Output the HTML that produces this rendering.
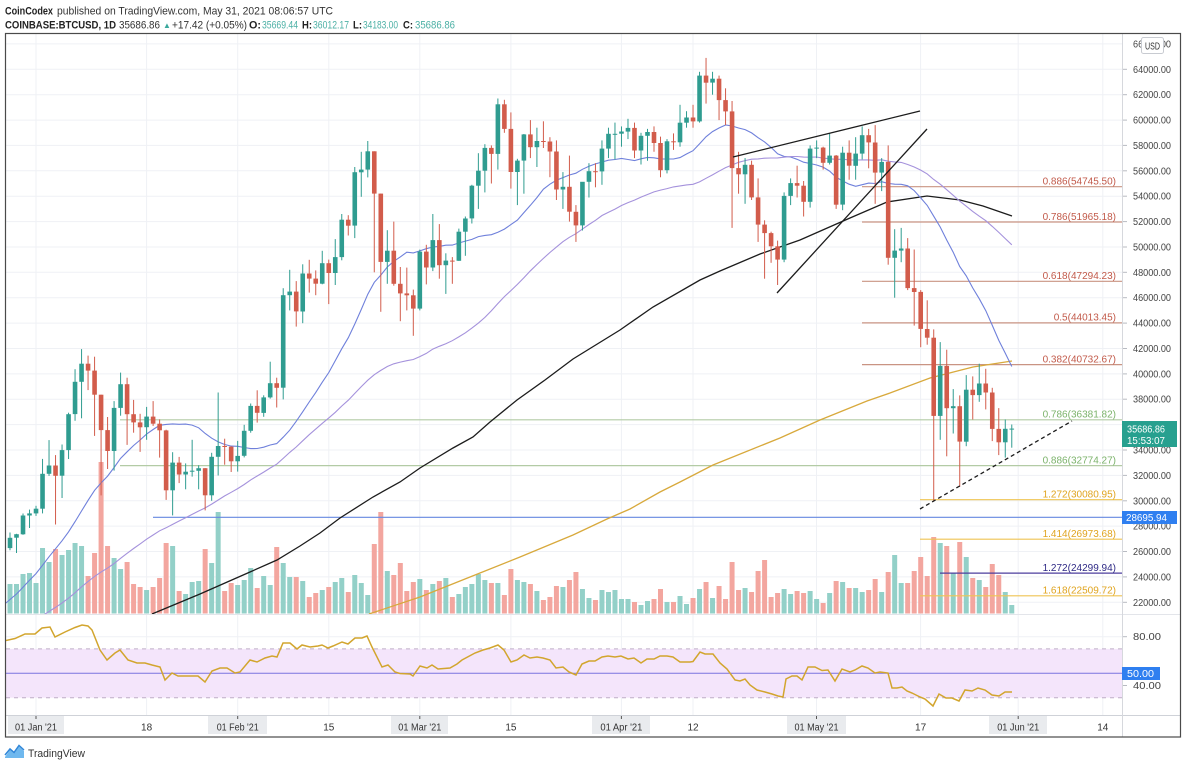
<!DOCTYPE html>
<html><head><meta charset="utf-8">
<style>
html,body{margin:0;padding:0;background:#fff;}
svg{display:block;font-family:"Liberation Sans",sans-serif;}
</style></head>
<body>
<svg id="chart" width="1186" height="768" viewBox="0 0 1186 768" xmlns="http://www.w3.org/2000/svg">
<defs>
<clipPath id="pp"><rect x="6" y="34" width="1116" height="580"/></clipPath>
<clipPath id="rp"><rect x="6" y="615" width="1116" height="100"/></clipPath>
</defs>
<rect width="1186" height="768" fill="#fff"/>

<!-- header -->
<text x="5" y="14.5" font-size="11" font-weight="bold" fill="#222" textLength="48" lengthAdjust="spacingAndGlyphs">CoinCodex</text>
<text x="57" y="14.5" font-size="11" fill="#333" textLength="276" lengthAdjust="spacingAndGlyphs">published on TradingView.com, May 31, 2021 08:06:57 UTC</text>
<text x="5" y="28.5" font-size="11" font-weight="bold" fill="#222" textLength="111" lengthAdjust="spacingAndGlyphs">COINBASE:BTCUSD, 1D</text>
<text x="119" y="28.5" font-size="11" fill="#333" textLength="41" lengthAdjust="spacingAndGlyphs">35686.86</text>
<text x="163" y="28" font-size="8" fill="#3aa89c">▲</text>
<text x="172" y="28.5" font-size="11" fill="#333" textLength="75" lengthAdjust="spacingAndGlyphs">+17.42 (+0.05%)</text>
<text x="249" y="28.5" font-size="11" font-weight="bold" fill="#222" textLength="12" lengthAdjust="spacingAndGlyphs">O:</text>
<text x="262" y="28.5" font-size="11" fill="#4cb0a5" textLength="36" lengthAdjust="spacingAndGlyphs">35669.44</text>
<text x="302" y="28.5" font-size="11" font-weight="bold" fill="#222" textLength="10" lengthAdjust="spacingAndGlyphs">H:</text>
<text x="313" y="28.5" font-size="11" fill="#4cb0a5" textLength="36" lengthAdjust="spacingAndGlyphs">36012.17</text>
<text x="353" y="28.5" font-size="11" font-weight="bold" fill="#222" textLength="9" lengthAdjust="spacingAndGlyphs">L:</text>
<text x="363" y="28.5" font-size="11" fill="#4cb0a5" textLength="35" lengthAdjust="spacingAndGlyphs">34183.00</text>
<text x="403" y="28.5" font-size="11" font-weight="bold" fill="#222" textLength="10" lengthAdjust="spacingAndGlyphs">C:</text>
<text x="415" y="28.5" font-size="11" fill="#4cb0a5" textLength="40" lengthAdjust="spacingAndGlyphs">35686.86</text>

<!-- grid -->
<g stroke="#eff1f5" stroke-width="1">
<line x1="6" x2="1122" y1="43.9" y2="43.9"/><line x1="6" x2="1122" y1="69.3" y2="69.3"/><line x1="6" x2="1122" y1="94.7" y2="94.7"/><line x1="6" x2="1122" y1="120.1" y2="120.1"/><line x1="6" x2="1122" y1="145.4" y2="145.4"/><line x1="6" x2="1122" y1="170.8" y2="170.8"/><line x1="6" x2="1122" y1="196.2" y2="196.2"/><line x1="6" x2="1122" y1="221.6" y2="221.6"/><line x1="6" x2="1122" y1="247" y2="247"/><line x1="6" x2="1122" y1="272.3" y2="272.3"/><line x1="6" x2="1122" y1="297.7" y2="297.7"/><line x1="6" x2="1122" y1="323.1" y2="323.1"/><line x1="6" x2="1122" y1="348.5" y2="348.5"/><line x1="6" x2="1122" y1="373.9" y2="373.9"/><line x1="6" x2="1122" y1="399.2" y2="399.2"/><line x1="6" x2="1122" y1="424.6" y2="424.6"/><line x1="6" x2="1122" y1="450" y2="450"/><line x1="6" x2="1122" y1="475.4" y2="475.4"/><line x1="6" x2="1122" y1="500.8" y2="500.8"/><line x1="6" x2="1122" y1="526.1" y2="526.1"/><line x1="6" x2="1122" y1="551.5" y2="551.5"/><line x1="6" x2="1122" y1="576.9" y2="576.9"/><line x1="6" x2="1122" y1="602.3" y2="602.3"/>
<line x1="6" x2="1122" y1="636.7" y2="636.7"/><line x1="6" x2="1122" y1="685.5" y2="685.5"/>
<line x1="36" x2="36" y1="34" y2="715"/><line x1="146.6" x2="146.6" y1="34" y2="715"/><line x1="237.7" x2="237.7" y1="34" y2="715"/><line x1="328.8" x2="328.8" y1="34" y2="715"/><line x1="419.8" x2="419.8" y1="34" y2="715"/><line x1="510.9" x2="510.9" y1="34" y2="715"/><line x1="621.4" x2="621.4" y1="34" y2="715"/><line x1="693" x2="693" y1="34" y2="715"/><line x1="816.5" x2="816.5" y1="34" y2="715"/><line x1="920.6" x2="920.6" y1="34" y2="715"/><line x1="1018.2" x2="1018.2" y1="34" y2="715"/><line x1="1102.8" x2="1102.8" y1="34" y2="715"/>
</g>

<!-- RSI band -->
<rect x="6" y="648.9" width="1116" height="48.8" fill="#f4e5fb"/>
<line x1="6" x2="1122" y1="648.9" y2="648.9" stroke="#bfaec8" stroke-dasharray="4,4"/>
<line x1="6" x2="1122" y1="697.7" y2="697.7" stroke="#bfaec8" stroke-dasharray="4,4"/>
<line x1="6" x2="1122" y1="673.3" y2="673.3" stroke="#7a74e0" stroke-width="1"/>

<!-- volume -->
<g id="vol"></g>

<!-- fib lines -->
<g stroke-width="1.2">
<line x1="862" x2="1122" y1="186.7" y2="186.7" stroke="#c99483"/>
<line x1="862" x2="1122" y1="222" y2="222" stroke="#c99483"/>
<line x1="862" x2="1122" y1="281.3" y2="281.3" stroke="#c99483"/>
<line x1="862" x2="1122" y1="322.9" y2="322.9" stroke="#c99483"/>
<line x1="862" x2="1122" y1="364.6" y2="364.6" stroke="#c99483"/>
<line x1="120" x2="1122" y1="419.8" y2="419.8" stroke="#b3cba5"/>
<line x1="120" x2="1122" y1="465.6" y2="465.6" stroke="#b3cba5"/>
<line x1="920" x2="1122" y1="499.7" y2="499.7" stroke="#efc453"/>
<line x1="153" x2="1122" y1="517.3" y2="517.3" stroke="#6688e0"/>
<line x1="920" x2="1122" y1="539.2" y2="539.2" stroke="#efc453"/>
<line x1="940" x2="1122" y1="573.1" y2="573.1" stroke="#4d3e9e"/>
<line x1="920" x2="1122" y1="595.8" y2="595.8" stroke="#efc453"/>
</g>

<!-- moving averages -->
<g clip-path="url(#pp)" fill="none">
<polyline points="152,614 200,594 250,572 277,560 300,546 320,533 340,518 373,497 400,482 420,468 453,448 473,437 490,422 517,400 545,380 573,359 620,330 653,307 700,280 720,271 760,254 800,240 850,218 887,202 927,196 960,200 983,206 1012,216" stroke="#1c1c1c" stroke-width="1.3"/>
<polyline points="369,614 420,597 480,573 520,557 573,535 607,519 630,509 660,492 680,482 713,465 780,438 820,420 867,401 890,393 930,378 973,367 1012,361" stroke="#d8a93c" stroke-width="1.3"/>
<polyline id="sma20" stroke="#6f80db" stroke-width="1.1"/>
<polyline id="sma50" stroke="#a592dc" stroke-width="1.1"/>
</g>

<!-- candles -->
<g id="cdl"></g>

<!-- trend lines -->
<g stroke="#1c1c1c" stroke-width="1.3">
<line x1="733" y1="157" x2="920" y2="111"/>
<line x1="777" y1="293" x2="927" y2="129"/>
<line x1="920" y1="509" x2="1072" y2="421" stroke-dasharray="4,3"/>
</g>

<!-- fib labels -->
<g font-size="10" text-anchor="end">
<text x="1116" y="184.5" fill="#c25a4a">0.886(54745.50)</text>
<text x="1116" y="219.8" fill="#c25a4a">0.786(51965.18)</text>
<text x="1116" y="279" fill="#c25a4a">0.618(47294.23)</text>
<text x="1116" y="320.7" fill="#c25a4a">0.5(44013.45)</text>
<text x="1116" y="362.4" fill="#c25a4a">0.382(40732.67)</text>
<text x="1116" y="417.6" fill="#7cb36b">0.786(36381.82)</text>
<text x="1116" y="463.4" fill="#7cb36b">0.886(32774.27)</text>
<text x="1116" y="497.5" fill="#e0a41f">1.272(30080.95)</text>
<text x="1116" y="537" fill="#e0a41f">1.414(26973.68)</text>
<text x="1116" y="570.9" fill="#2e2985">1.272(24299.94)</text>
<text x="1116" y="593.6" fill="#e0a41f">1.618(22509.72)</text>
</g>

<!-- RSI line -->
<g clip-path="url(#rp)">
<polyline fill="none" stroke="#d2a52e" stroke-width="1.5" points="5,640.7 15,638.5 25,634 35,634 42,628 50,627 55,637 65,632 75,627.5 82,625 88,626 92,630 100,650 107,660 115,653 120,650 128,660 137,663 145,663 152,665 160,667 165,680 172,673 178,676 192,676 198,676 205,682 212,671 220,668 227,668 235,673 240,672 250,660 257,662 265,658 272,656 277,657 283,643 290,643 297,649 302,645 310,647 318,646 322,645 328,648 333,646 342,642 348,644 355,638 362,638 367,636 372,647 382,667 388,665 395,672 400,673.5 410,674 413,676 420,666 427,668 432,665 438,669 450,668 457,664 462,660 475,653 483,650 490,648 498,645 504,650 511,662 517,660 524,655 530,658 537,657 543,658 550,660 556,668 563,667 569,672 576,675 582,664 589,661 595,661 602,657 608,656 615,657 621,656 628,659 634,658 641,663 647,659 654,659 660,656 667,656 673,657 680,662 690,662 693,661.5 700,652 705,654 713,654 720,663 727,669 735,680 740,681 745,679 750,685 757,690 765,692 772,694 778,696 783,697 786,679 792,676 797,676 802,680 808,667 815,667 822,670.5 828,670 835,681 842,669 850,672 855,670 862,666 868,668 875,673 880,672 888,673 892,688 897,688 902,687 907,691 912,693 920,697 925,699 933,706 939,694 946,698 952,698 959,701 965,690 972,691 978,688 985,690 992,695 999,696 1005,692 1012,692"/>
</g>

<!-- separators / frame -->
<line x1="6" x2="1180" y1="614.5" y2="614.5" stroke="#e3e5ea"/>
<line x1="5" x2="1180" y1="715.5" y2="715.5" stroke="#cfd2d8"/>
<line x1="1122.5" x2="1122.5" y1="34" y2="737" stroke="#d6d8dd"/>
<rect x="5.5" y="33.5" width="1175" height="703.5" fill="none" stroke="#4a4a4a" stroke-width="1.2"/>

<!-- price axis ticks -->
<g stroke="#b8bbc2">
<line x1="1123" x2="1127" y1="69.3" y2="69.3"/><line x1="1123" x2="1127" y1="94.7" y2="94.7"/><line x1="1123" x2="1127" y1="120.1" y2="120.1"/><line x1="1123" x2="1127" y1="145.4" y2="145.4"/><line x1="1123" x2="1127" y1="170.8" y2="170.8"/><line x1="1123" x2="1127" y1="196.2" y2="196.2"/><line x1="1123" x2="1127" y1="221.6" y2="221.6"/><line x1="1123" x2="1127" y1="247" y2="247"/><line x1="1123" x2="1127" y1="272.3" y2="272.3"/><line x1="1123" x2="1127" y1="297.7" y2="297.7"/><line x1="1123" x2="1127" y1="323.1" y2="323.1"/><line x1="1123" x2="1127" y1="348.5" y2="348.5"/><line x1="1123" x2="1127" y1="373.9" y2="373.9"/><line x1="1123" x2="1127" y1="399.2" y2="399.2"/><line x1="1123" x2="1127" y1="450" y2="450"/><line x1="1123" x2="1127" y1="475.4" y2="475.4"/><line x1="1123" x2="1127" y1="500.8" y2="500.8"/><line x1="1123" x2="1127" y1="551.5" y2="551.5"/><line x1="1123" x2="1127" y1="576.9" y2="576.9"/><line x1="1123" x2="1127" y1="602.3" y2="602.3"/><line x1="1123" x2="1127" y1="636.7" y2="636.7"/><line x1="1123" x2="1127" y1="685.5" y2="685.5"/>
</g>

<!-- price axis labels -->
<g font-size="10" fill="#444">
<text x="1133" y="47.4" textLength="38" lengthAdjust="spacingAndGlyphs">66000.00</text>
<text x="1133" y="72.8" textLength="38" lengthAdjust="spacingAndGlyphs">64000.00</text>
<text x="1133" y="98.2" textLength="38" lengthAdjust="spacingAndGlyphs">62000.00</text>
<text x="1133" y="123.6" textLength="38" lengthAdjust="spacingAndGlyphs">60000.00</text>
<text x="1133" y="148.9" textLength="38" lengthAdjust="spacingAndGlyphs">58000.00</text>
<text x="1133" y="174.3" textLength="38" lengthAdjust="spacingAndGlyphs">56000.00</text>
<text x="1133" y="199.7" textLength="38" lengthAdjust="spacingAndGlyphs">54000.00</text>
<text x="1133" y="225.1" textLength="38" lengthAdjust="spacingAndGlyphs">52000.00</text>
<text x="1133" y="250.5" textLength="38" lengthAdjust="spacingAndGlyphs">50000.00</text>
<text x="1133" y="275.8" textLength="38" lengthAdjust="spacingAndGlyphs">48000.00</text>
<text x="1133" y="301.2" textLength="38" lengthAdjust="spacingAndGlyphs">46000.00</text>
<text x="1133" y="326.6" textLength="38" lengthAdjust="spacingAndGlyphs">44000.00</text>
<text x="1133" y="352" textLength="38" lengthAdjust="spacingAndGlyphs">42000.00</text>
<text x="1133" y="377.4" textLength="38" lengthAdjust="spacingAndGlyphs">40000.00</text>
<text x="1133" y="402.7" textLength="38" lengthAdjust="spacingAndGlyphs">38000.00</text>
<text x="1133" y="428.1" textLength="38" lengthAdjust="spacingAndGlyphs">36000.00</text>
<text x="1133" y="453.5" textLength="38" lengthAdjust="spacingAndGlyphs">34000.00</text>
<text x="1133" y="478.9" textLength="38" lengthAdjust="spacingAndGlyphs">32000.00</text>
<text x="1133" y="504.3" textLength="38" lengthAdjust="spacingAndGlyphs">30000.00</text>
<text x="1133" y="529.6" textLength="38" lengthAdjust="spacingAndGlyphs">28000.00</text>
<text x="1133" y="555" textLength="38" lengthAdjust="spacingAndGlyphs">26000.00</text>
<text x="1133" y="580.4" textLength="38" lengthAdjust="spacingAndGlyphs">24000.00</text>
<text x="1133" y="605.8" textLength="38" lengthAdjust="spacingAndGlyphs">22000.00</text>
<text x="1133" y="640.2" textLength="28" lengthAdjust="spacingAndGlyphs">80.00</text>
<text x="1133" y="689" textLength="28" lengthAdjust="spacingAndGlyphs">40.00</text>
</g>

<!-- USD box -->
<rect x="1141.5" y="37.5" width="22" height="16" rx="2" fill="#fff" stroke="#c8cbd1"/>
<text x="1145" y="49.5" font-size="10" fill="#333" textLength="15" lengthAdjust="spacingAndGlyphs">USD</text>

<!-- current price box -->
<rect x="1122" y="421" width="55" height="26" fill="#27a08f"/>
<text x="1127" y="432.5" font-size="10" fill="#fff" textLength="38" lengthAdjust="spacingAndGlyphs">35686.86</text>
<text x="1127" y="444" font-size="10" fill="#fff" textLength="38" lengthAdjust="spacingAndGlyphs">15:53:07</text>
<!-- blue level box -->
<rect x="1122" y="511" width="55" height="13" fill="#2f7ff0"/>
<text x="1126" y="521" font-size="10" fill="#fff" textLength="41" lengthAdjust="spacingAndGlyphs">28695.94</text>
<!-- RSI 50 box -->
<rect x="1122" y="667" width="38" height="13" fill="#2f7ff0"/>
<text x="1127" y="677" font-size="10" fill="#fff" textLength="27" lengthAdjust="spacingAndGlyphs">50.00</text>

<!-- x axis -->
<g fill="#e9ebee">
<rect x="8" y="716" width="56" height="18"/>
<rect x="208" y="716" width="59" height="18"/>
<rect x="391" y="716" width="57" height="18"/>
<rect x="592" y="716" width="58" height="18"/>
<rect x="787" y="716" width="59" height="18"/>
<rect x="989" y="716" width="58" height="18"/>
</g>
<g stroke="#555">
<line x1="36" x2="36" y1="716" y2="719"/><line x1="237.7" x2="237.7" y1="716" y2="719"/><line x1="419.8" x2="419.8" y1="716" y2="719"/><line x1="621.4" x2="621.4" y1="716" y2="719"/><line x1="816.5" x2="816.5" y1="716" y2="719"/><line x1="1018.2" x2="1018.2" y1="716" y2="719"/>
</g>
<g font-size="10" fill="#333" text-anchor="middle">
<text x="36" y="730.5" textLength="42" lengthAdjust="spacingAndGlyphs">01 Jan '21</text>
<text x="146.6" y="730.5">18</text>
<text x="237.7" y="730.5" textLength="42" lengthAdjust="spacingAndGlyphs">01 Feb '21</text>
<text x="328.8" y="730.5">15</text>
<text x="419.8" y="730.5" textLength="43" lengthAdjust="spacingAndGlyphs">01 Mar '21</text>
<text x="510.9" y="730.5">15</text>
<text x="621.4" y="730.5" textLength="42" lengthAdjust="spacingAndGlyphs">01 Apr '21</text>
<text x="693" y="730.5">12</text>
<text x="816.5" y="730.5" textLength="44" lengthAdjust="spacingAndGlyphs">01 May '21</text>
<text x="920.6" y="730.5">17</text>
<text x="1018.2" y="730.5" textLength="42" lengthAdjust="spacingAndGlyphs">01 Jun '21</text>
<text x="1102.8" y="730.5">14</text>
</g>

<!-- footer -->
<path d="M5 757 L10 750 L14 753.5 L19 746.5 L24 751 L24 758 L5 758 Z" fill="#6fb8ee"/>
<path d="M5 755 L10 749 L14 752.5 L19 745.5 L24 750" fill="none" stroke="#2f86d8" stroke-width="1.5"/>
<text x="28" y="757" font-size="11" fill="#333" textLength="57" lengthAdjust="spacingAndGlyphs">TradingView</text>
</svg>

<script>
(function(){
var D=[[26500,28422,25819,26272],[26272,27500,26101,27084],[27084,27400,25880,27362],[27362,28996,27320,28840],[28840,29300,27850,29002],[29002,29600,28803,29374],[29374,33300,29000,32127],[32127,34778,31962,32782],[32782,33600,28130,31971],[31971,34437,30221,33992],[33992,36939,33288,36824],[36824,40365,36300,39371],[39371,41950,36500,40797],[40797,41436,38720,40254],[40254,41350,35111,38356],[38356,38356,30420,35566],[35566,36600,32500,33922],[33922,37850,32380,37316],[37316,40100,36700,39187],[39187,39700,34400,36825],[36825,37950,35360,36178],[36178,36850,33850,35791],[35791,37400,34800,36630],[36630,37850,35900,36069],[36069,36415,33400,35547],[35547,35600,30071,30825],[30825,33826,28850,33005],[33005,33456,31390,32067],[32067,32944,30900,32289],[32289,34802,31900,32366],[32366,32794,30900,32569],[32569,32570,29241,30432],[30432,33783,30000,33466],[33466,38531,31990,34316],[34316,34890,32838,34269],[34269,34288,32270,33114],[33114,34717,32296,33537],[33537,35987,33418,35510],[35510,37662,35362,37473],[37473,38708,36161,36926],[36926,38310,36616,38144],[38144,40955,38052,39266],[39266,39700,37351,38903],[38903,46750,37988,46196],[46196,48200,45000,46481],[46481,47310,43727,44918],[44918,48630,43994,47909],[47909,48985,46400,47504],[47504,48150,46202,47105],[47105,49700,47060,48717],[48717,49000,45500,47945],[47945,50620,47000,49199],[49199,52600,48950,52149],[52149,52500,50900,51679],[51679,56300,50700,55888],[55888,57500,53950,56099],[56099,58350,55480,57539],[57539,57541,48000,54207],[54207,54207,44892,48824],[48824,51320,47100,49705],[49705,52000,46950,47093],[47093,48420,44150,46339],[46339,48370,45000,46188],[46188,46640,43000,45137],[45137,49790,45000,49631],[49631,50170,47050,48378],[48378,52600,48100,50538],[50538,51800,47500,48561],[48561,49500,46300,48927],[48927,49200,47100,48912],[48912,51450,48900,51206],[51206,52400,49300,52246],[52246,54900,51850,54824],[54824,57387,53000,56008],[56008,58100,54300,57805],[57805,58000,55000,57332],[57332,61700,56100,61243],[61243,61600,59000,59302],[59302,60600,54600,55907],[55907,56950,53300,56804],[56804,58900,54200,58870],[58870,60000,57000,57858],[57858,59400,56300,58346],[58346,59900,57800,58313],[58313,58650,55500,57523],[57523,58400,53700,54529],[54529,55900,53000,54738],[54738,57200,52000,52774],[52774,53300,50400,51704],[51704,55100,51300,55137],[55137,56600,53900,55973],[55973,56600,54700,55950],[55950,58400,54900,57750],[57750,59400,57000,58917],[58917,59800,56900,58918],[58918,59500,57900,59095],[59095,60100,58500,59384],[59384,59800,57000,57603],[57603,59000,56500,58758],[58758,59300,56800,59057],[59057,59500,57500,58192],[58192,58700,55500,56048],[56048,58500,55800,58323],[58323,58950,57650,58245],[58245,61200,57900,59793],[59793,60700,59400,60204],[60204,61200,59400,59893],[59893,63800,59800,63503],[63503,64900,61300,62947],[62947,63800,62000,63258],[63258,63500,60000,61572],[61572,62500,59600,60683],[60683,61500,51500,56216],[56216,57500,54200,55724],[55724,57000,53400,56473],[56473,56800,53700,53906],[53906,55400,50400,51763],[51763,52100,47500,51093],[51093,51200,48750,50050],[50050,50500,47000,49004],[49004,54300,48800,54021],[54021,55400,53300,55033],[55033,56400,53900,54825],[54825,55200,52400,53555],[53555,58000,53100,57750],[57750,58400,57000,57828],[57828,57900,56100,56631],[56631,58950,56500,57200],[57200,57250,53000,53333],[53333,57900,52900,57424],[57424,58400,55300,56397],[56397,58650,55300,57356],[57356,59500,56900,58803],[58803,59300,56200,58232],[58232,59600,53400,55859],[55859,57000,54400,56704],[56704,58000,48600,49150],[49150,51400,46000,49716],[49716,51500,48800,49880],[49880,50700,46600,46760],[46760,49800,43800,46456],[46456,46600,42100,43538],[43538,45800,42300,42850],[42850,43500,30000,36690],[36690,42500,34800,40627],[40627,41900,33500,37294],[37294,38800,35300,37448],[37448,38300,31100,34655],[34655,39900,34300,38750],[38750,39800,36400,38324],[38324,40800,37800,39241],[39241,40400,37200,38529],[38529,38900,34700,35663],[35663,37300,33600,34606],[34606,36400,33400,35670],[35669,36012,34183,35686]];
var V=[0,584,584,574,573,583,548,562,549,555,550,543,546,576,553,462,546,558,569,562,584,587,590,587,578,543,546,591,594,582,581,549,563,512,591,583,585,580,568,588,576,585,547,563,577,577,581,597,593,590,
587,582,578,592,575,583,595,544,512,571,575,563,591,582,579,590,584,581,578,597,594,587,584,574,580,583,583,595,569,580,582,584,591,600,597,586,587,580,572,589,598,600,590,592,590,599,599,602,605,601,599,589,602,602,596,
604,598,589,582,598,586,599,562,590,588,592,571,560,597,593,589,594,591,593,591,599,603,593,581,582,588,588,592,590,579,592,572,555,583,583,571,557,576,537,543,546,573,542,557,578,580,587,564,575,592,605];
var PRE=[11550,11430,11430,11500,11320,11370,11510,11750,11920,12820,12980,12930,13120,13040,13070,13650,13280,13460,13560,13800,
13760,13550,14030,14150,15590,15580,14830,15480,15330,15300,15700,16290,16330,16080,15960,16720,17660,17800,17820,18680,18710,18420,18370,19160,18730,17150,17140,17720,18180,19700,
18770,19220,19440,18650,19150,19360,19170,18320,18550,18250,18040,18800,19170,19270,19440,21380,22830,23150,23860,23480,22740,23820,23250,23730,24710,26490];
function X(i){return 3.5+6.505*i;}
function Y(p){return 69.3+(64000-p)*0.01269;}
var vol='',cdl='';
for(var i=1;i<D.length;i++){
  var o=D[i][0],h=D[i][1],l=D[i][2],c=D[i][3],up=c>=o,x=X(i);
  var t=V[i];
  if(t){vol+='<rect x="'+(x-2.5).toFixed(2)+'" y="'+t+'" width="5" height="'+(613.5-t).toFixed(1)+'" fill="'+(up?'#93d0c8':'#f3a69f')+'"/>';}
  var col=up?'#2f9c90':'#d25c4b';
  var yt=Y(Math.max(o,c)),yb=Y(Math.min(o,c));
  cdl+='<line x1="'+x.toFixed(2)+'" x2="'+x.toFixed(2)+'" y1="'+Y(h).toFixed(1)+'" y2="'+Y(l).toFixed(1)+'" stroke="'+col+'" stroke-width="1"/>';
  cdl+='<rect x="'+(x-2.3).toFixed(2)+'" y="'+yt.toFixed(1)+'" width="4.6" height="'+Math.max(1,yb-yt).toFixed(1)+'" fill="'+col+'"/>';
}
document.getElementById('vol').innerHTML=vol;
document.getElementById('cdl').innerHTML=cdl;
var C=PRE.concat(D.map(function(d){return d[3];})),n=PRE.length;
function sma(k){
  var pts=[];
  for(var i=0;i<D.length;i++){
    var s=0;for(var j=0;j<k;j++){s+=C[n+i-j];}
    pts.push(X(i).toFixed(1)+','+Y(s/k).toFixed(1));
  }
  return pts.join(' ');
}
document.getElementById('sma20').setAttribute('points',sma(20));
document.getElementById('sma50').setAttribute('points',sma(50));
})();
</script>
</body></html>
